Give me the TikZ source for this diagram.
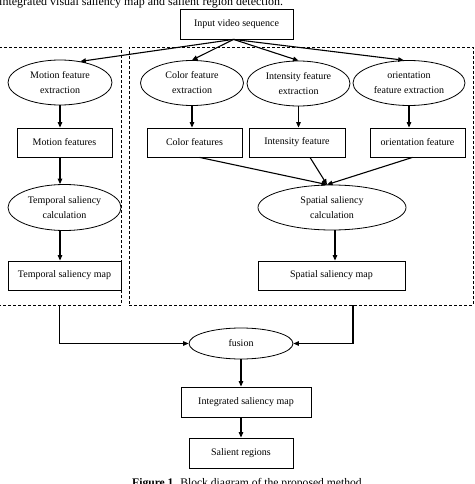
\documentclass[tikz,border=0pt]{standalone}
\usepackage{fontspec}
\setmainfont{Liberation Serif}
\usetikzlibrary{arrows.meta,shapes.geometric,calc}
\begin{document}
\begin{tikzpicture}[x=1pt,y=-1pt,
  every node/.style={font=\fontsize{10}{15}\selectfont, align=center, inner sep=0pt},
  boxnode/.style={draw, line width=0.8pt, rectangle},
  ellnode/.style={draw, line width=0.8pt, ellipse},
  dashbox/.style={draw, line width=0.8pt, dash pattern=on 3pt off 2pt, rectangle},
  arr/.style={line width=1.1pt, -{Triangle[length=5.5pt,width=4.5pt]}},
  plain/.style={line width=1.1pt}]
\useasboundingbox (0,0) rectangle (474,484);
\fill[white] (0,0) rectangle (474,484);

% partial texts at the edges
\node[anchor=base west, font=\fontsize{12}{14}\selectfont] (toptext) at (-1,6) {integrated visual saliency map and salient region detection.};
\node[anchor=base west, font=\fontsize{11.6}{14}\selectfont] (caption) at (132,486) {\textbf{Figure 1.} Block diagram of the proposed method.};

% dashed groups
\node[dashbox, minimum width=123, minimum height=258] (lbox) at (59.5,176) {};
\node[dashbox, minimum width=344, minimum height=258] (rbox) at (301,176) {};

% nodes
\node[boxnode, minimum width=113, minimum height=30] (inp) at (236.5,24) {Input video sequence};
\node[ellnode, minimum width=104, minimum height=45] (mot) at (60,82.5) {Motion feature\\extraction};
\node[ellnode, minimum width=103, minimum height=45] (col) at (192,83) {Color feature\\extraction};
\node[ellnode, minimum width=103, minimum height=45] (int) at (298.5,83.5) {Intensity feature\\extraction};
\node[ellnode, minimum width=112, minimum height=45] (ori) at (409,83) {orientation\\feature extraction};

\node[boxnode, minimum width=95, minimum height=29] (motf) at (64.5,142.5) {Motion features};
\node[boxnode, minimum width=95, minimum height=29] (colf) at (194.5,142.5) {Color features};
\node[boxnode, minimum width=96, minimum height=29] (intf) at (297,142.5) {Intensity feature};
\node[boxnode, minimum width=95, minimum height=29] (orif) at (417.5,142.5) {orientation feature};

\node[ellnode, minimum width=113, minimum height=46] (tem) at (64.5,207.5) {Temporal saliency\\calculation};
\node[ellnode, minimum width=148, minimum height=45] (spa) at (332,207.5) {Spatial saliency\\calculation};

\node[boxnode, minimum width=113, minimum height=29] (temm) at (64.5,275.5) {Temporal saliency map};
\node[boxnode, minimum width=147, minimum height=29] (spam) at (331.5,275.5) {Spatial saliency map};

\node[ellnode, minimum width=104, minimum height=31] (fus) at (241,343.5) {fusion};
\node[boxnode, minimum width=130, minimum height=30] (ism) at (246,402) {Integrated saliency map};
\node[boxnode, minimum width=104, minimum height=30] (sal) at (241,453) {Salient regions};

% connectors from input
\coordinate (src) at ([xshift=-3pt]inp.south);
\draw[arr] (src) -- (mot.46);
\draw[arr] (src) -- (col.north);
\draw[arr] (src) -- (int.north);
\draw[arr] (src) -- (ori.103);

% feature extraction to features
\draw[arr] (mot.south) -- (mot.south |- motf.north);
\draw[arr] (col.south) -- (col.south |- colf.north);
\draw[arr] (int.south) -- (int.south |- intf.north);
\draw[arr] (ori.south) -- (ori.south |- orif.north);

% temporal branch
\draw[arr] (mot.south |- motf.south) -- (mot.south |- tem.north);
\draw[arr] (mot.south |- tem.south) -- (mot.south |- temm.north);

% spatial branch
\coordinate (spatop) at ([xshift=-5pt]spa.north);
\draw[arr] ([xshift=5pt]colf.south) -- (spatop);
\draw[arr] ([xshift=13pt]intf.south) -- (spatop);
\draw[arr] ([xshift=-5pt]orif.south) -- (spatop);
\draw[arr] ([xshift=3pt]spa.south) -- ([xshift=3pt]spa.south |- spam.north);

% fusion
\draw[arr] (lbox.south) |- (fus.west);
\draw[arr] ([xshift=52pt]rbox.south) |- (fus.east);
\draw[arr] (fus.south) -- (fus.south |- ism.north);
\draw[arr] (fus.south |- ism.south) -- (sal.north);
\end{tikzpicture}
\end{document}
